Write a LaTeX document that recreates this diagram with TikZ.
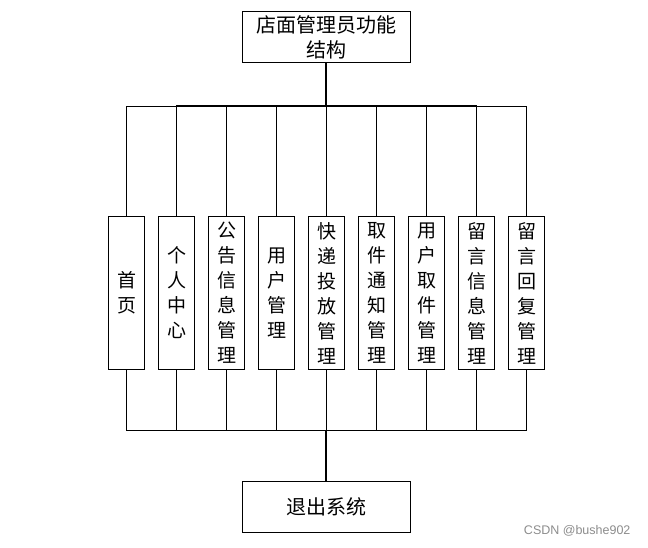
\documentclass[tikz,border=0pt]{standalone}
\usepackage{fontspec}
\setmainfont{Liberation Sans}
\newfontfamily\cjk{Noto Sans CJK SC}
\usepackage{tikz}
\usetikzlibrary{positioning}

\begin{document}
\begin{tikzpicture}[
  x=1pt, y=-1pt,
  box/.style={draw, fill=white, align=center, inner sep=2pt, font=\cjk\fontsize{20}{25}\selectfont},
  modbox/.style={draw, fill=white, align=center, minimum width=36pt, minimum height=153pt, inner sep=0pt, font=\cjk\fontsize{19}{25}\selectfont},
  link/.style={line width=0.7pt},
  boldlink/.style={line width=1.3pt},
  trunk/.style={line width=2.2pt}
]
\useasboundingbox (0,0) rectangle (648,547);

\node[box, minimum width=168pt, minimum height=51pt] (top) at (326,37) {店面管理员功能\\结构};
\node[box, minimum width=168pt, minimum height=51pt] (exit) at (326,507) {退出系统};

\coordinate (tbus) at (326,106);
\coordinate (bbus) at (326,430);

\foreach \i/\txt in {1/首\\页, 2/个\\人\\中\\心, 3/公\\告\\信\\息\\管\\理, 4/用\\户\\管\\理,
  5/快\\递\\投\\放\\管\\理, 6/取\\件\\通\\知\\管\\理, 7/用\\户\\取\\件\\管\\理,
  8/留\\言\\信\\息\\管\\理, 9/留\\言\\回\\复\\管\\理}
{
  \node[modbox] (b\i) at ({76.5+50*\i},293) {\txt};
  \draw[link] (b\i.south) |- (bbus);
}

% top branches, the inner ones heavier
\draw[link] (b1.north) |- (tbus);
\draw[link] (b9.north) |- (tbus);
\foreach \i in {2,...,8}
  \draw[boldlink] (b\i.north) |- (tbus);

\draw[trunk] (top.south) -- (tbus);
\draw[boldlink] (bbus) -- (exit.north);

% watermark
\node[font=\fontsize{12.5}{14}\selectfont, text=black!45, anchor=east] (mark) at (634,531) {CSDN @bushe902};
\end{tikzpicture}
\end{document}
